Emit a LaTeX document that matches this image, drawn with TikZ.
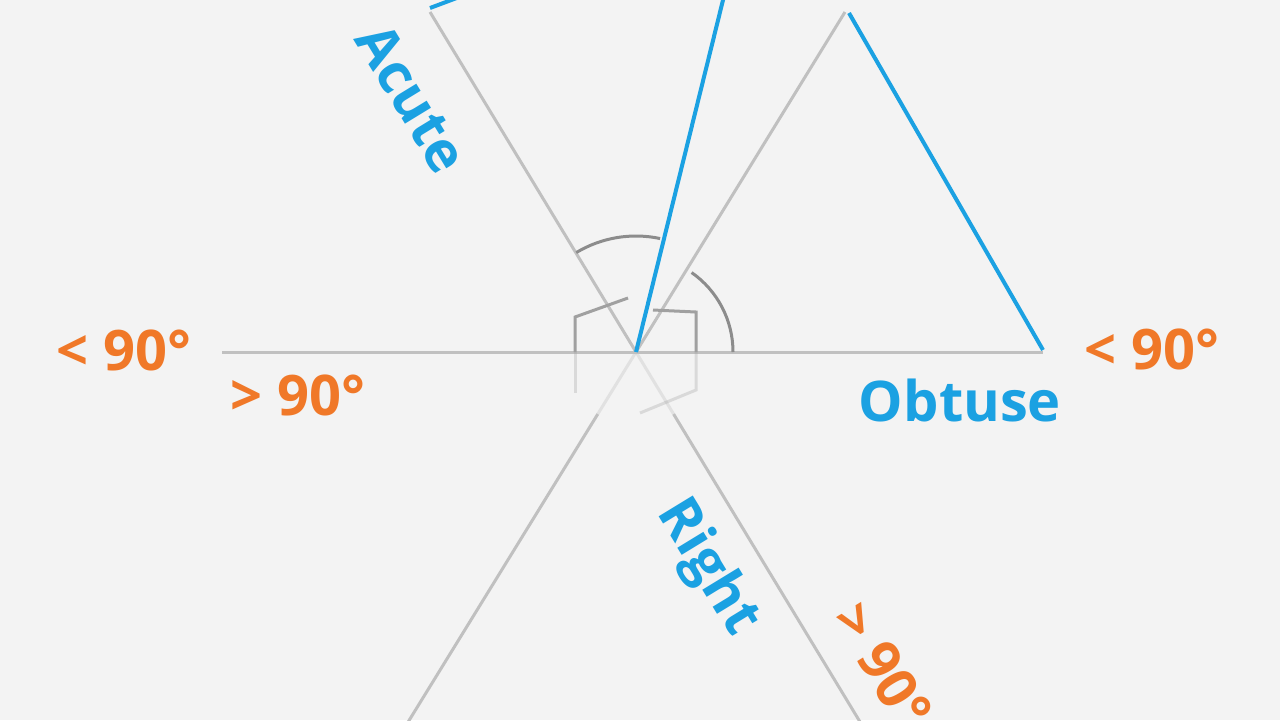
\documentclass[tikz,border=0pt]{standalone}
\usepackage{fontspec}
\setmainfont{Open Sans}
\usetikzlibrary{calc}
\definecolor{bg}{RGB}{243,243,243}
\definecolor{linegray}{RGB}{192,192,192}
\definecolor{arcgray}{RGB}{140,140,140}
\definecolor{markgray}{RGB}{160,160,160}
\definecolor{mblue}{RGB}{27,161,226}
\definecolor{morange}{RGB}{240,120,40}
\begin{document}
\begin{tikzpicture}[x=0.5pt,y=-0.5pt,
  gline/.style={draw=linegray,line width=1.5pt},
  fadeline/.style={draw=linegray,line width=1.5pt,opacity=.35},
  bline/.style={draw=mblue,line width=2pt},
  arcline/.style={draw=arcgray,line width=1.5pt},
  markline/.style={draw=markgray,line width=1.5pt},
  fademark/.style={draw=markgray,line width=1.5pt,opacity=.3},
  txt/.style={font=\fontsize{28}{30}\selectfont\bfseries,inner sep=0pt},
  olabel/.style={txt,text=morange},
  blabel/.style={txt,text=mblue}]
\useasboundingbox (0,0) rectangle (1280,720);
\fill[bg] (0,0) rectangle (1280,720);
\clip (0,0) rectangle (1280,720);
% coordinates
\coordinate (O) at (636,352);
\coordinate (L) at (222,352);
\coordinate (R) at (1043,352);
\coordinate (UL) at (430,12);
\coordinate (UR) at (845,12);
\coordinate (DL) at (397,740);
\coordinate (DR) at (871,740);
\coordinate (BT) at (724,-4);
\coordinate (B2a) at (849,13);
\coordinate (B2b) at (1043,350);
\coordinate (B3a) at (430,8);
\coordinate (B3b) at (462,-4);
% gray lines
\draw[gline] (L) -- (R);
\draw[gline] (UL) -- (O);
\draw[gline] (UR) -- (O);
\draw[fadeline] (O) -- ($(O)!0.16!(DL)$);
\draw[gline] ($(O)!0.16!(DL)$) -- (DL);
\draw[fadeline] (O) -- ($(O)!0.16!(DR)$);
\draw[gline] ($(O)!0.16!(DR)$) -- (DR);
% arcs
\draw[arcline] ([shift={(-78:116)}]O) arc[start angle=-78,end angle=-121,radius=116];
\draw[arcline] ([shift={(-55:97)}]O) arc[start angle=-55,end angle=0,radius=97];
% right-angle marks
\coordinate (m1) at (575,352);
\coordinate (m2) at (575,317);
\coordinate (m3) at (628,298);
\coordinate (m4) at (575,393);
\draw[markline] (m1) -- (m2) -- (m3);
\draw[fademark] (m1) -- (m4);
\coordinate (n1) at (653,310);
\coordinate (n2) at (696,312);
\coordinate (n3) at (696,352);
\coordinate (n4) at (696,390);
\coordinate (n5) at (640,413);
\draw[markline] (n1) -- (n2) -- (n3);
\draw[fademark] (n3) -- (n4) -- (n5);
% blue lines
\draw[bline] (O) -- (BT);
\draw[bline] (B2a) -- (B2b);
\draw[bline] (B3a) -- (B3b);
% labels
\node[olabel] (lt1) at (124,350) {< 90°};
\node[olabel] (gt1) at (298,395) {> 90°};
\node[olabel] (lt2) at (1152,349) {< 90°};
\node[blabel] (obt) at (960,400) {Obtuse};
\node[blabel,rotate=-58.6] (acu) at (412,98) {Acute};
\node[blabel,rotate=-58.6] (rgt) at (707,568) {Right};
\node[olabel,rotate=-58.6] (gt2) at (883,665) {> 90°};
\end{tikzpicture}
\end{document}
